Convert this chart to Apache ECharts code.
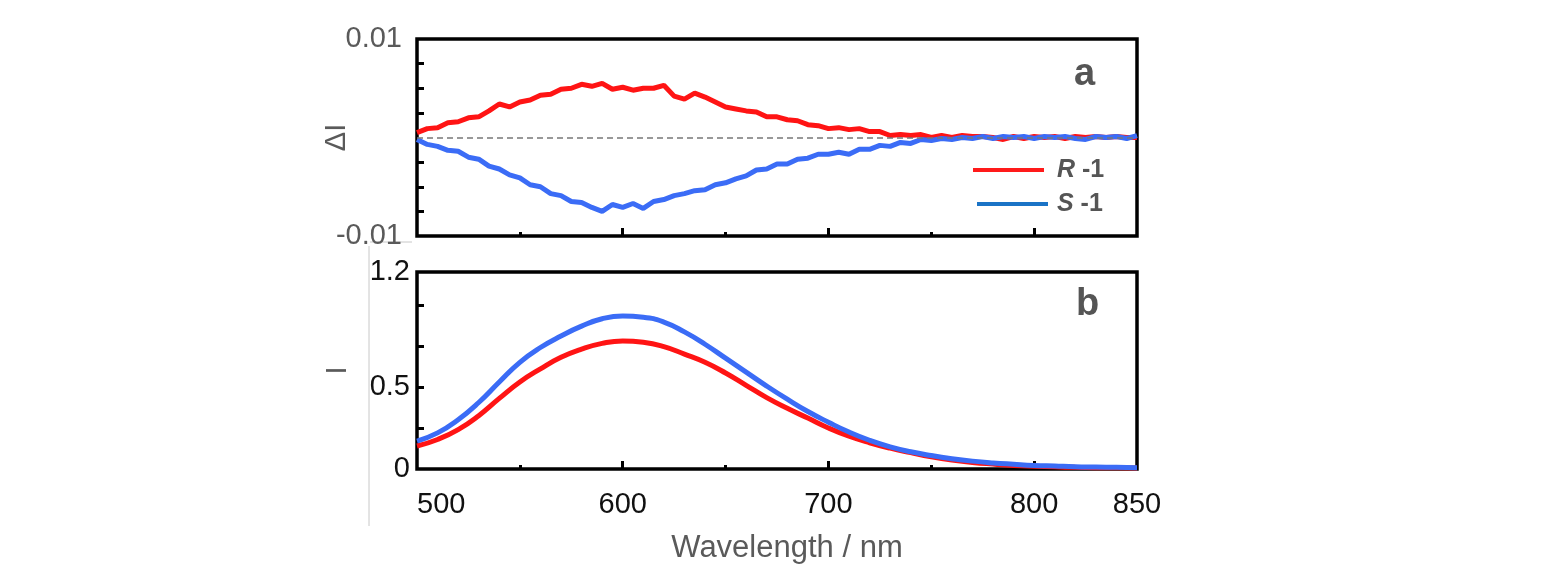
<!DOCTYPE html>
<html>
<head>
<meta charset="utf-8">
<script src="https://cdn.jsdelivr.net/npm/echarts@6/dist/echarts.min.js"></script>
<style>
html,body{margin:0;padding:0;background:#fff;}
#c{width:1568px;height:580px;}
</style>
</head>
<body>
<div id="c"></div>
<script>
// ---- Panel a: ΔI difference spectra (5 nm steps) ----
const wlA = [500,505,510,515,520,525,530,535,540,545,550,555,560,565,570,575,580,585,590,595,600,605,610,615,620,625,630,635,640,645,650,655,660,665,670,675,680,685,690,695,700,705,710,715,720,725,730,735,740,745,750,755,760,765,770,775,780,785,790,795,800,805,810,815,820,825,830,835,840,845,850];
const dR = [0.0005,0.0009,0.0010,0.0015,0.0016,0.0020,0.0021,0.0027,0.0034,0.0031,0.0036,0.0038,0.0043,0.0044,0.0049,0.0050,0.0054,0.0052,0.0055,0.0049,0.0051,0.0048,0.0050,0.0050,0.0053,0.0042,0.0039,0.0045,0.0041,0.0036,0.0031,0.0029,0.0027,0.0026,0.0021,0.0021,0.0018,0.0017,0.0013,0.0012,0.0009,0.0010,0.0008,0.0009,0.0006,0.0006,0.0002,0.0003,0.0002,0.0003,0.0000,0.0002,0.0000,0.0002,0.0001,0.0001,0.0000,-0.0002,0.0001,-0.0001,0.0001,0.0000,0.0001,-0.0001,0.0001,0.0000,0.0001,0.0000,0.0001,0.0000,0.0000];
const dS = [-0.0002,-0.0007,-0.0009,-0.0013,-0.0014,-0.0020,-0.0022,-0.0029,-0.0032,-0.0038,-0.0041,-0.0048,-0.0050,-0.0057,-0.0059,-0.0065,-0.0066,-0.0071,-0.0075,-0.0068,-0.0071,-0.0067,-0.0072,-0.0065,-0.0063,-0.0059,-0.0057,-0.0054,-0.0053,-0.0048,-0.0046,-0.0042,-0.0039,-0.0033,-0.0032,-0.0027,-0.0027,-0.0022,-0.0021,-0.0017,-0.0017,-0.0015,-0.0017,-0.0012,-0.0012,-0.0008,-0.0009,-0.0005,-0.0006,-0.0002,-0.0003,-0.0001,-0.0002,0.0000,-0.0001,0.0001,-0.0001,0.0001,0.0000,0.0001,-0.0001,0.0001,0.0000,0.0001,-0.0001,-0.0002,0.0001,0.0000,0.0001,-0.0001,0.0002];

// ---- Panel b: I emission spectra (10 nm steps) ----
const wlB = [500,510,520,530,540,550,560,570,580,590,600,610,620,630,640,650,660,670,680,690,700,710,720,730,740,750,760,770,780,790,800,810,820,830,840,850];
const iR = [0.14,0.18,0.24,0.325,0.43,0.53,0.61,0.68,0.73,0.765,0.78,0.772,0.745,0.70,0.65,0.585,0.51,0.435,0.37,0.31,0.25,0.20,0.16,0.127,0.10,0.075,0.055,0.04,0.03,0.022,0.017,0.013,0.01,0.008,0.007,0.006];
const iS = [0.17,0.22,0.30,0.405,0.53,0.65,0.74,0.81,0.87,0.915,0.932,0.925,0.895,0.835,0.76,0.675,0.59,0.505,0.425,0.35,0.285,0.225,0.175,0.135,0.105,0.082,0.063,0.048,0.037,0.029,0.022,0.018,0.014,0.012,0.01,0.008];

// ---- axis ticks / labels ----
const xMajor = [600,700,800];
const xMinor = [550,650,750];
const xLabels = [500,600,700,800,850];
const yATicks = [-0.0075,-0.005,-0.0025,0.0025,0.005,0.0075];
const yALabels = [-0.01,0.01];
const yBTicks = [0.25,0.5,0.75,1.0];
const yBLabels = [0,0.5,1.2];
const names = ['R -1','S -1'];

const FONT = '"Liberation Sans", Arial, sans-serif';
const RED = '#ff1414';
const BLUE = '#3b6cf6';

function zip(xs, ys){ return xs.map((x,i)=>[x, ys[i]]); }

function xAx(grid, ticks, len, labels){
  return {
    type:'value', gridIndex:grid, min:500, max:850, position:'bottom',
    axisLine:{show:false, onZero:false},
    splitLine:{show:false},
    axisTick:{show:true, inside:true, length:len, customValues:ticks, lineStyle:{color:'#000', width:3}},
    axisLabel: labels ? {show:true, customValues:labels, margin:21, fontSize:29, color:'#111', fontFamily:FONT, alignMinLabel:'left'} : {show:false}
  };
}

const chart = echarts.init(document.getElementById('c'), null, {renderer:'canvas'});
chart.setOption({
  backgroundColor:'#fff',
  animation:false,
  grid:[
    {left:417, top:39, width:720, height:197, show:true, borderColor:'#000', borderWidth:3.5, backgroundColor:'transparent'},
    {left:417, top:272, width:720, height:197, show:true, borderColor:'#000', borderWidth:3.5, backgroundColor:'transparent'}
  ],
  xAxis:[
    xAx(0, xMajor, 8, null),
    xAx(0, xMinor, 4, null),
    Object.assign(xAx(1, xMajor, 8, xLabels), {
      name:'Wavelength / nm', nameLocation:'middle', nameGap:64, nameMoveOverlap:false,
      nameTextStyle:{fontSize:31, color:'#5a5a5a', fontFamily:FONT, padding:[0,0,0,20]}
    }),
    xAx(1, xMinor, 4, null)
  ],
  yAxis:[
    {
      type:'value', gridIndex:0, min:-0.01, max:0.01, position:'left',
      name:'ΔI', nameLocation:'middle', nameGap:66, nameMoveOverlap:false,
      nameTextStyle:{fontSize:29, color:'#5a5a5a', fontFamily:FONT},
      axisLine:{show:false, onZero:false}, splitLine:{show:false},
      axisTick:{show:true, inside:true, length:7, customValues:yATicks, lineStyle:{color:'#000', width:3}},
      axisLabel:{show:true, customValues:yALabels, margin:15, fontSize:29, color:'#5a5a5a', fontFamily:FONT,
        formatter:v => (v > 0 ? '0.01' : '-0.01')}
    },
    {
      type:'value', gridIndex:1, min:0, max:1.2, position:'left',
      name:'I', nameLocation:'middle', nameGap:65, nameMoveOverlap:false,
      nameTextStyle:{fontSize:29, color:'#5a5a5a', fontFamily:FONT},
      axisLine:{show:false, onZero:false}, splitLine:{show:false},
      axisTick:{show:true, inside:true, length:7, customValues:yBTicks, lineStyle:{color:'#000', width:3}},
      axisLabel:{show:true, customValues:yBLabels, margin:7, fontSize:29, color:'#111', fontFamily:FONT,
        formatter:v => (v === 0 ? '0' : String(v))}
    }
  ],
  legend:[
    {data:[{name:names[0], itemStyle:{color:'#ff1a1a'}}], left:968, top:152, orient:'vertical',
     icon:'rect', itemWidth:71, itemHeight:4, itemGap:0,
     formatter:n => '{i|' + n.split(' ')[0] + '} ' + n.split(' ')[1],
     textStyle:{fontSize:25, fontWeight:'bold', color:'#555', fontFamily:FONT, lineHeight:26, padding:[0,0,0,8],
       rich:{i:{fontStyle:'italic', fontWeight:'bold', fontSize:25, color:'#555', fontFamily:FONT}}}},
    {data:[{name:names[1], itemStyle:{color:'#1a73c6'}}], left:972, top:186, orient:'vertical',
     icon:'rect', itemWidth:71, itemHeight:4, itemGap:0,
     formatter:n => '{i|' + n.split(' ')[0] + '} ' + n.split(' ')[1],
     textStyle:{fontSize:25, fontWeight:'bold', color:'#555', fontFamily:FONT, lineHeight:26, padding:[0,0,0,4],
       rich:{i:{fontStyle:'italic', fontWeight:'bold', fontSize:25, color:'#555', fontFamily:FONT}}}}
  ],
  graphic:[
    {type:'text', left:1074, top:56, style:{text:'a', font:'bold 38px "Liberation Sans", Arial, sans-serif', fill:'#555'}},
    {type:'text', left:1076, top:286, style:{text:'b', font:'bold 38px "Liberation Sans", Arial, sans-serif', fill:'#555'}},
    {type:'line', shape:{x1:369, y1:246, x2:369, y2:526}, style:{stroke:'#c8c8c8', lineWidth:1}},
    {type:'line', shape:{x1:370, y1:242, x2:412, y2:242}, style:{stroke:'#c8c8c8', lineWidth:1}}
  ],
  series:[
    {type:'line', name:'zero', xAxisIndex:0, yAxisIndex:0, data:[], z:1,
     markLine:{silent:true, symbol:['none','none'], label:{show:false},
       lineStyle:{color:'#777', type:[6,4], width:1.5}, data:[{yAxis:0}]}},
    {type:'line', name:names[0], xAxisIndex:0, yAxisIndex:0, data:zip(wlA, dR), showSymbol:false, z:3,
     lineStyle:{color:RED, width:5}, itemStyle:{color:RED}},
    {type:'line', name:names[1], xAxisIndex:0, yAxisIndex:0, data:zip(wlA, dS), showSymbol:false, z:4,
     lineStyle:{color:BLUE, width:5}, itemStyle:{color:BLUE}},
    {type:'line', name:names[0], xAxisIndex:2, yAxisIndex:1, data:zip(wlB, iR), showSymbol:false, smooth:true, z:3,
     lineStyle:{color:RED, width:5}, itemStyle:{color:RED}},
    {type:'line', name:names[1], xAxisIndex:2, yAxisIndex:1, data:zip(wlB, iS), showSymbol:false, smooth:true, z:4,
     lineStyle:{color:BLUE, width:5}, itemStyle:{color:BLUE}}
  ]
});
</script>
</body>
</html>
